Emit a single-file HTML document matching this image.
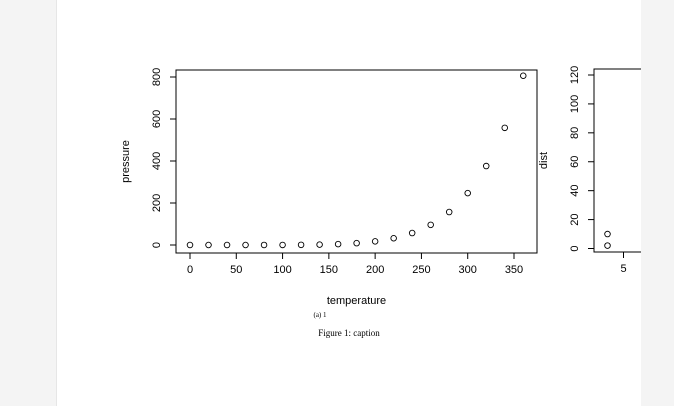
<!DOCTYPE html>
<html><head><meta charset="utf-8"><style>
body{margin:0;width:674px;height:406px;overflow:hidden;background:#f4f4f4;}
svg{display:block;font-family:"Liberation Sans",sans-serif;}
</style></head><body>
<svg width="674" height="406">
<rect x="56" y="0" width="586" height="406" fill="#e6e6e6"/>
<rect x="57" y="0" width="584" height="406" fill="#fff"/>
<g id="p1"></g>
<g id="p2"></g>
<text x="320" y="317" font-family="Liberation Serif" font-size="7" text-anchor="middle">(a) 1</text>
<text x="349" y="336" font-family="Liberation Serif" font-size="9" text-anchor="middle">Figure 1: caption</text>
</svg>
<script>
const temperature=[0,20,40,60,80,100,120,140,160,180,200,220,240,260,280,300,320,340,360];
const pressure=[0.0002,0.0012,0.006,0.03,0.09,0.27,0.75,1.85,4.2,8.8,17.3,32.1,57,96,157,247,376,558,806];
const xTicks1=[0,50,100,150,200,250,300,350];
const yTicks1=[0,200,400,600,800];
const speed=[4,4];
const dist=[2,10];
const xTicks2=[5];
const yTicks2=[0,20,40,60,80,100,120];
const NS="http://www.w3.org/2000/svg";
function mk(p,t,a,txt){const e=document.createElementNS(NS,t);for(const k in a)e.setAttribute(k,a[k]);if(txt!==undefined)e.textContent=txt;p.appendChild(e);return e;}
function plot(g,box,xs,ys,xd,yd,xt,yt,xl,yl){
  const X=v=>box.x0+(v-xd[0])/(xd[1]-xd[0])*(box.px1-box.x0);
  const Y=v=>box.y0-(v-yd[0])/(yd[1]-yd[0])*(box.y0-box.py1);
  let e=mk(g,'rect',{x:box.l,y:box.t,width:box.r-box.l,height:box.b-box.t,fill:'none',stroke:'#000','stroke-width':1});
  
  xt.forEach(v=>{const x=X(v);
    e=mk(g,'line',{x1:x,x2:x,y1:box.b,y2:box.b+6,stroke:'#000'});
    e=mk(g,'text',{x:x,y:box.b+20,'font-size':11,'text-anchor':'middle'},String(v));});
  if(xt.length>1){e=mk(g,'line',{x1:X(xt[0]),x2:X(xt[xt.length-1]),y1:box.b,y2:box.b,stroke:'#000'});}
  yt.forEach(v=>{const y=Y(v);
    e=mk(g,'line',{x1:box.l-6,x2:box.l,y1:y,y2:y,stroke:'#000'});
    e=mk(g,'text',{x:0,y:0,'font-size':11,'text-anchor':'middle',transform:`translate(${box.l-16},${y}) rotate(-90)`},String(v));});
  e=mk(g,'line',{x1:box.l,x2:box.l,y1:Y(yt[0]),y2:Y(yt[yt.length-1]),stroke:'#000'});
  xs.forEach((v,i)=>{e=mk(g,'circle',{cx:X(v),cy:Y(ys[i]),r:2.8,fill:'none',stroke:'#000','stroke-width':0.9});});
  if(xl){e=mk(g,'text',{x:(box.l+box.r)/2,y:box.b+51,'font-size':11,'text-anchor':'middle'},xl);}
  e=mk(g,'text',{x:0,y:0,'font-size':11,'text-anchor':'middle',transform:`translate(${box.l-47},${(box.t+box.b)/2}) rotate(-90)`},yl);
}
plot(document.getElementById('p1'),{l:176,r:537,t:70,b:253,x0:190,px1:514,y0:245,py1:77},temperature,pressure,[0,350],[0,800],xTicks1,yTicks1,'temperature','pressure');
plot(document.getElementById('p2'),{l:594,r:660,t:69,b:252,x0:607.5,px1:623.5,y0:248.5,py1:75},speed,dist,[4,5],[0,120],xTicks2,yTicks2,null,'dist');
</script>
<svg style="position:absolute;left:641px;top:0" width="33" height="406"><rect width="33" height="406" fill="#f4f4f4"/></svg>
</body></html>
